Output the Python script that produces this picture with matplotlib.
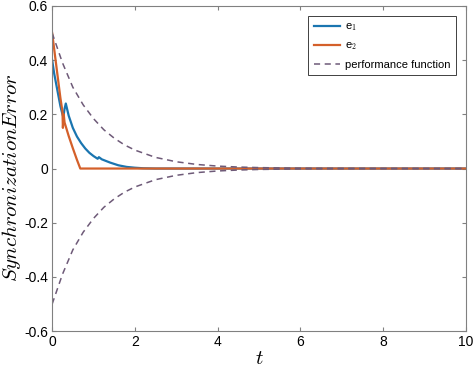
import matplotlib
matplotlib.use('Agg')
import matplotlib.pyplot as plt

# values
t_e1 = [0, 0.05, 0.1, 0.15, 0.2, 0.25, 0.27, 0.3, 0.33, 0.4, 0.5, 0.6, 0.7, 0.8,
        0.9, 1.0, 1.1, 1.13, 1.2, 1.4, 1.6, 1.8, 2.0, 2.2, 2.5, 10]
e1 = [0.40, 0.35, 0.31, 0.27, 0.23, 0.20, 0.19, 0.22, 0.24, 0.195, 0.15, 0.118, 0.094, 0.074,
      0.058, 0.046, 0.036, 0.042, 0.034, 0.022, 0.012, 0.006, 0.003, 0.001, 0.0, 0.0]

t_e2 = [0, 0.05, 0.1, 0.15, 0.2, 0.25, 0.26, 0.28, 0.3, 0.35, 0.4, 0.5, 0.6, 0.68, 10]
e2 = [0.50, 0.44, 0.38, 0.32, 0.26, 0.21, 0.15, 0.20, 0.17, 0.145, 0.12, 0.075, 0.032, 0.0, 0.0]

t_pf = [0, 0.25, 0.5, 0.75, 1.0, 1.25, 1.5, 1.75, 2.0, 2.5, 3.0, 3.5, 4.0, 4.5, 5.0,
        6.0, 7.0, 8.0, 10]
pf = [0.50, 0.39, 0.30, 0.235, 0.184, 0.143, 0.112, 0.087, 0.068, 0.041, 0.025, 0.015,
      0.009, 0.0055, 0.0034, 0.0012, 0.0005, 0.0002, 0.0]
pf_low = [-v for v in pf]

plt.rcParams['font.family'] = ['Liberation Sans', 'DejaVu Sans']
plt.rcParams['mathtext.fontset'] = 'cm'

fig = plt.figure(figsize=(4.74, 3.7), dpi=100)
ax = fig.add_axes([0.110, 0.105, 0.873, 0.879])

ax.plot(t_e1, e1, color='#1a75b0', lw=1.6, label='e$_1$')
ax.plot(t_e2, e2, color='#d4602a', lw=1.6, label='e$_2$')
ax.plot(t_pf, pf, color='#6e5a78', lw=1.1, ls=(0, (4, 3)), label='performance function')
ax.plot(t_pf, pf_low, color='#6e5a78', lw=1.1, ls=(0, (4, 3)))

ax.set_xlim(0, 10)
ax.set_ylim(-0.6, 0.6)
ax.set_xticks([0, 2, 4, 6, 8, 10])
ax.set_yticks([-0.6, -0.4, -0.2, 0, 0.2, 0.4, 0.6])
ax.set_yticklabels(['-0.6', '-0.4', '-0.2', '0', '0.2', '0.4', '0.6'])
ax.tick_params(direction='in', top=True, right=True, labelsize=10, length=3,
               color='#808080', pad=3)
for s in ax.spines.values():
    s.set_color('#808080')
    s.set_linewidth(0.8)

ax.set_xlabel('$t$', fontsize=15, labelpad=0)
ax.set_ylabel('$SynchronizationError$', fontsize=15, labelpad=0)
ax.yaxis.set_label_coords(-0.071, 0.472)

leg = ax.legend(loc='upper right', fontsize=8, fancybox=False, edgecolor='#404040',
                framealpha=1, borderaxespad=0.9, handlelength=2.4, labelspacing=0.65,
                borderpad=0.5, handletextpad=0.4)
leg.get_frame().set_linewidth(0.7)

fig.savefig('out.png', dpi=100)
